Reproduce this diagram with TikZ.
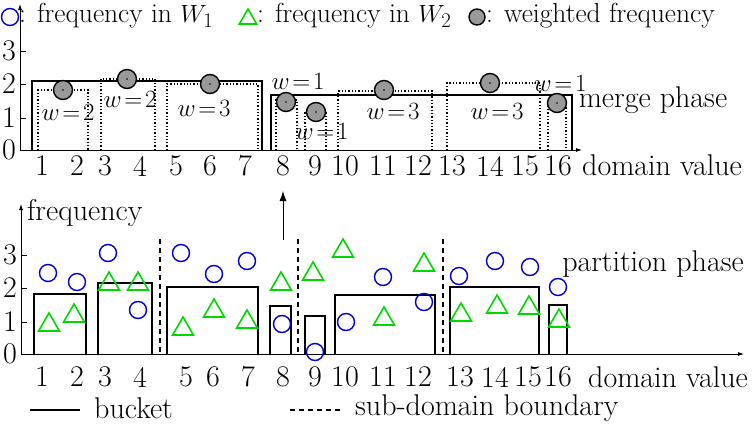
\documentclass[tikz,border=0pt]{standalone}
\usetikzlibrary{arrows.meta,shapes.geometric}
\begin{document}
\begin{tikzpicture}[x=1pt,y=-1pt,
  txt/.style={font=\fontsize{30}{34}\selectfont,inner sep=0pt},
  lg/.style={font=\fontsize{27.5}{32}\selectfont,inner sep=0pt},
  wl/.style={font=\fontsize{29}{34}\selectfont,inner sep=0pt},
  ax/.style={-{Latex[length=6pt,width=4pt]},line width=0.8pt},
  bk/.style={line width=1.5pt},
  dt/.style={dotted,line width=1.3pt},
  sd/.style={dashed,line width=1.5pt,dash pattern=on 5pt off 4pt},
  bc/.style={circle,draw=blue!80!black,line width=1.4pt,minimum size=17pt,inner sep=0pt},
  gt/.style={regular polygon,regular polygon sides=3,draw=green!85!black,line width=1.6pt,minimum size=24pt,inner sep=0pt},
  gc/.style={circle,draw=black,fill=gray!80,line width=1.4pt,minimum size=19pt,inner sep=0pt}]
\useasboundingbox (0,0) rectangle (752,426);
% legend top
\node[bc] (l1) at (10,17) {};
\node[lg,anchor=west] (l1t) at (19,16) {: frequency in $W_1$};
\node[gt,minimum size=20pt] (l2) at (248,19) {};
\node[lg,anchor=west] (l2t) at (257,16) {: frequency in $W_2$};
\node[gc,minimum size=16pt] (l3) at (477,17) {};
\node[lg,anchor=west] (l3t) at (486,16) {: weighted frequency};
% top axes
\coordinate (to) at (20,150);
\coordinate (tyt) at (20,4);
\coordinate (txt) at (582,150);
\draw[ax] (to) -- (tyt);
\draw[ax] (to) -- (txt);
\foreach \v/\y in {0/150,1/118,2/84,3/51}{
  \coordinate (tt\v) at (20,\y);
  \draw (tt\v) -- ++(6,0);
  \node[txt,anchor=east] (tl\v) at (16,\y) {\v};}
\foreach \i/\x in {1/42,2/77,3/105,4/140,5/176,6/210,7/245,8/283,9/315,10/345,11/383,12/418,13/452,14/490,15/525,16/558}{
  \node[txt] (td\i) at (\x,166) {\i};}
\node[txt,anchor=west] (tdv) at (582,165) {domain value};
\node[txt] (mp) at (653,100) {merge phase};
% top buckets
\draw[bk] (32,150) -- (32,81) -- (262,81) -- (262,150);
\draw[bk] (271,150) -- (271,95) -- (572,95) -- (572,150);
\draw[dt] (38,150) -- (38,90) -- (88,90) -- (88,150);
\draw[dt] (101,150) -- (101,79) -- (155,79) -- (155,150);
\draw[dt] (167,150) -- (167,84) -- (258,84) -- (258,150);
\draw[dt] (276,150) -- (276,100) -- (297,100) -- (297,150);
\draw[dt] (305,150) -- (305,112) -- (326,112) -- (326,150);
\draw[dt] (338,150) -- (338,91) -- (432,91) -- (432,150);
\draw[dt] (447,150) -- (447,83) -- (540,83) -- (540,150);
\draw[dt] (548,150) -- (548,103) -- (566,103) -- (566,150);
\foreach \n/\x/\y in {1/63/90,2/127/79,3/210/84,4/286/102,5/316/112,6/384/90,7/490/83,8/557/103}{
  \node[gc] (g\n) at (\x,\y) {};
  \fill (g\n) circle (0.8pt);}
\foreach \n/\x/\y/\w in {1/68/112/2,2/130/99/2,3/204/108/3,4/298/81/1,5/322/131/1,6/393/111/3,7/497/111/3,8/560/83/1}{
  \node[wl] (w\n) at (\x,\y) {$w\!=\!\w$};}
% bottom axes
\coordinate (bo) at (21,354);
\coordinate (byt) at (21,204);
\coordinate (bxt) at (744,354);
\draw[ax] (bo) -- (byt);
\draw[ax] (bo) -- (bxt);
\foreach \v/\y in {0/354,1/322,2/288,3/255}{
  \coordinate (bt\v) at (21,\y);
  \draw (bt\v) -- ++(6,0);
  \node[txt,anchor=east] (bl\v) at (17,\y) {\v};}
\node[txt,anchor=west] (fr) at (27,213) {frequency};
\foreach \i/\x in {1/42,2/77,3/105,4/140,5/186,6/213,7/248,8/283,9/315,10/345,11/383,12/418,13/460,14/495,15/528,16/558}{
  \node[txt] (bd\i) at (\x,377) {\i};}
\node[txt,anchor=west] (bdv) at (588,377) {domain value};
\node[txt] (pp) at (653,264) {partition phase};
% buckets
\foreach \a/\b/\t in {34/86/294,98/152/283,167/258/287,270/291/306,305/325/316,335/435/295,450/539/287,549/567/305}{
  \draw[bk] (\a,354) -- (\a,\t) -- (\b,\t) -- (\b,354);}
% sub-domain boundaries
\foreach \n/\x in {1/160,2/298,3/443}{
  \coordinate (sa\n) at (\x,239);
  \coordinate (sb\n) at (\x,354);
  \draw[sd] (sa\n) -- (sb\n);}
% arrow
\coordinate (ar1) at (283,240);
\coordinate (ar2) at (283,191);
\draw[-{Latex[length=10pt,width=7pt]},line width=0.8pt] (ar1) -- (ar2);
% circles
\foreach \n/\x/\y in {1/48/273,2/77/282,3/108/253,4/138/310,5/181/253,6/214/274,7/247/261,8/282/324,9/315/352,10/346/322,11/383/277,12/424/302,13/459/276,14/495/261,15/530/267,16/558/287}{
  \node[bc] (c\n) at (\x,\y) {};}
\foreach \n/\x/\y in {1/49/325,2/74/316,3/109/284,4/138/284,5/183/329,6/214/311,7/247/322,8/281/284,9/313/274,10/343/251,11/384/319,12/424/265,13/461/315,14/497/307,15/529/308,16/559/321}{
  \node[gt] (t\n) at (\x,\y) {};}
% bottom legend
\coordinate (lb1) at (30,410);
\coordinate (lb2) at (80,410);
\draw[bk] (lb1) -- (lb2);
\node[txt,anchor=west] (lbt) at (94,408) {bucket};
\coordinate (ld1) at (290,410);
\coordinate (ld2) at (342,410);
\draw[sd] (ld1) -- (ld2);
\node[txt,anchor=west] (ldt) at (355,408) {sub-domain boundary};
\end{tikzpicture}
\end{document}
